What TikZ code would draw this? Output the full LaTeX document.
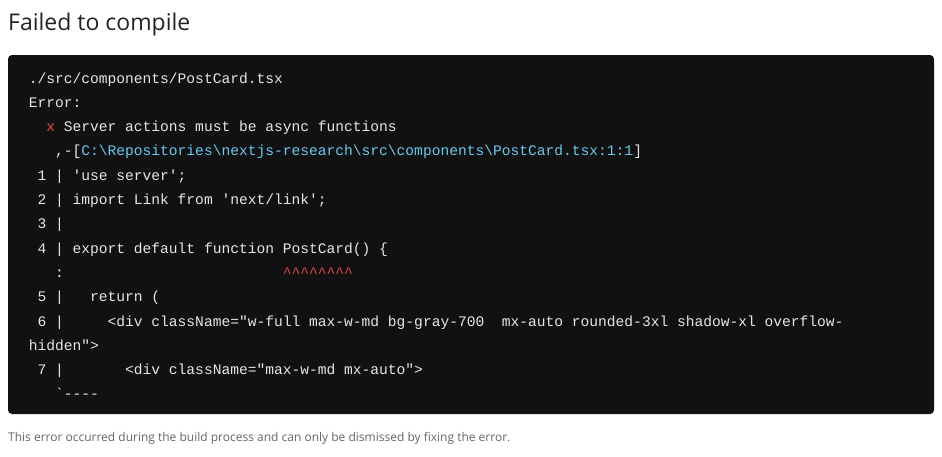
\documentclass[tikz,border=0pt]{standalone}
\usepackage{fontspec}
\setmainfont{Open Sans}
\setmonofont{Liberation Mono}
\definecolor{bgbox}{HTML}{111111}
\definecolor{codefg}{HTML}{E6E6E6}
\definecolor{pathblue}{HTML}{68C8F0}
\definecolor{errred}{HTML}{E5484D}
\definecolor{titlefg}{HTML}{222222}
\definecolor{footfg}{HTML}{666666}
\tikzset{code/.style={anchor=base west,inner sep=0pt,text=codefg,font=\fontsize{14.6}{16}\ttfamily}}
\newcommand\cl[4][codefg]{\node[code,text=#1] at ({28.6+#2*8.76},{78+5+#3*24.3}) {#4};}
\begin{document}
\begin{tikzpicture}[x=1pt,y=-1pt]
\useasboundingbox (0,0) rectangle (942,456);
\fill[white] (0,0) rectangle (942,456);
\node[anchor=base west,inner sep=0pt,text=titlefg,font=\fontsize{23}{26}\selectfont] (title) at (8,30) {Failed to compile};
\fill[bgbox,rounded corners=4pt] (8,55) rectangle (934,414);
\cl{0}{0}{./src/components/PostCard.tsx}
\cl{0}{1}{Error:}
\cl[errred]{2}{2}{x}
\cl{4}{2}{Server actions must be async functions}
\cl{3}{3}{,-[}
\cl[pathblue]{6}{3}{C:\textbackslash Repositories\textbackslash nextjs-research\textbackslash src\textbackslash components\textbackslash PostCard.tsx:1:1}
\cl{6}{3}{\phantom{C:\textbackslash Repositories\textbackslash nextjs-research\textbackslash src\textbackslash components\textbackslash PostCard.tsx:1:1}]}
\cl{1}{4}{1 | 'use server';}
\cl{1}{5}{2 | import Link from 'next/link';}
\cl{1}{6}{3 |}
\cl{1}{7}{4 | export default function PostCard() \{}
\cl{3}{8}{:}
\cl[errred]{29}{8}{\textasciicircum\textasciicircum\textasciicircum\textasciicircum\textasciicircum\textasciicircum\textasciicircum\textasciicircum}
\cl{1}{9}{5 |}
\cl{7}{9}{return (}
\cl{1}{10}{6 |}
\cl{9}{10}{<div className="w-full max-w-md bg-gray-700}
\cl{54}{10}{mx-auto rounded-3xl shadow-xl overflow-}
\cl{0}{11}{hidden">}
\cl{1}{12}{7 |}
\cl{11}{12}{<div className="max-w-md mx-auto">}
\cl{3}{13}{`----}
\node[anchor=base west,inner sep=0pt,text=footfg,font=\fontsize{12}{14}\selectfont] (foot) at (8,441) {This error occurred during the build process and can only be dismissed by fixing the error.};
\end{tikzpicture}
\end{document}
